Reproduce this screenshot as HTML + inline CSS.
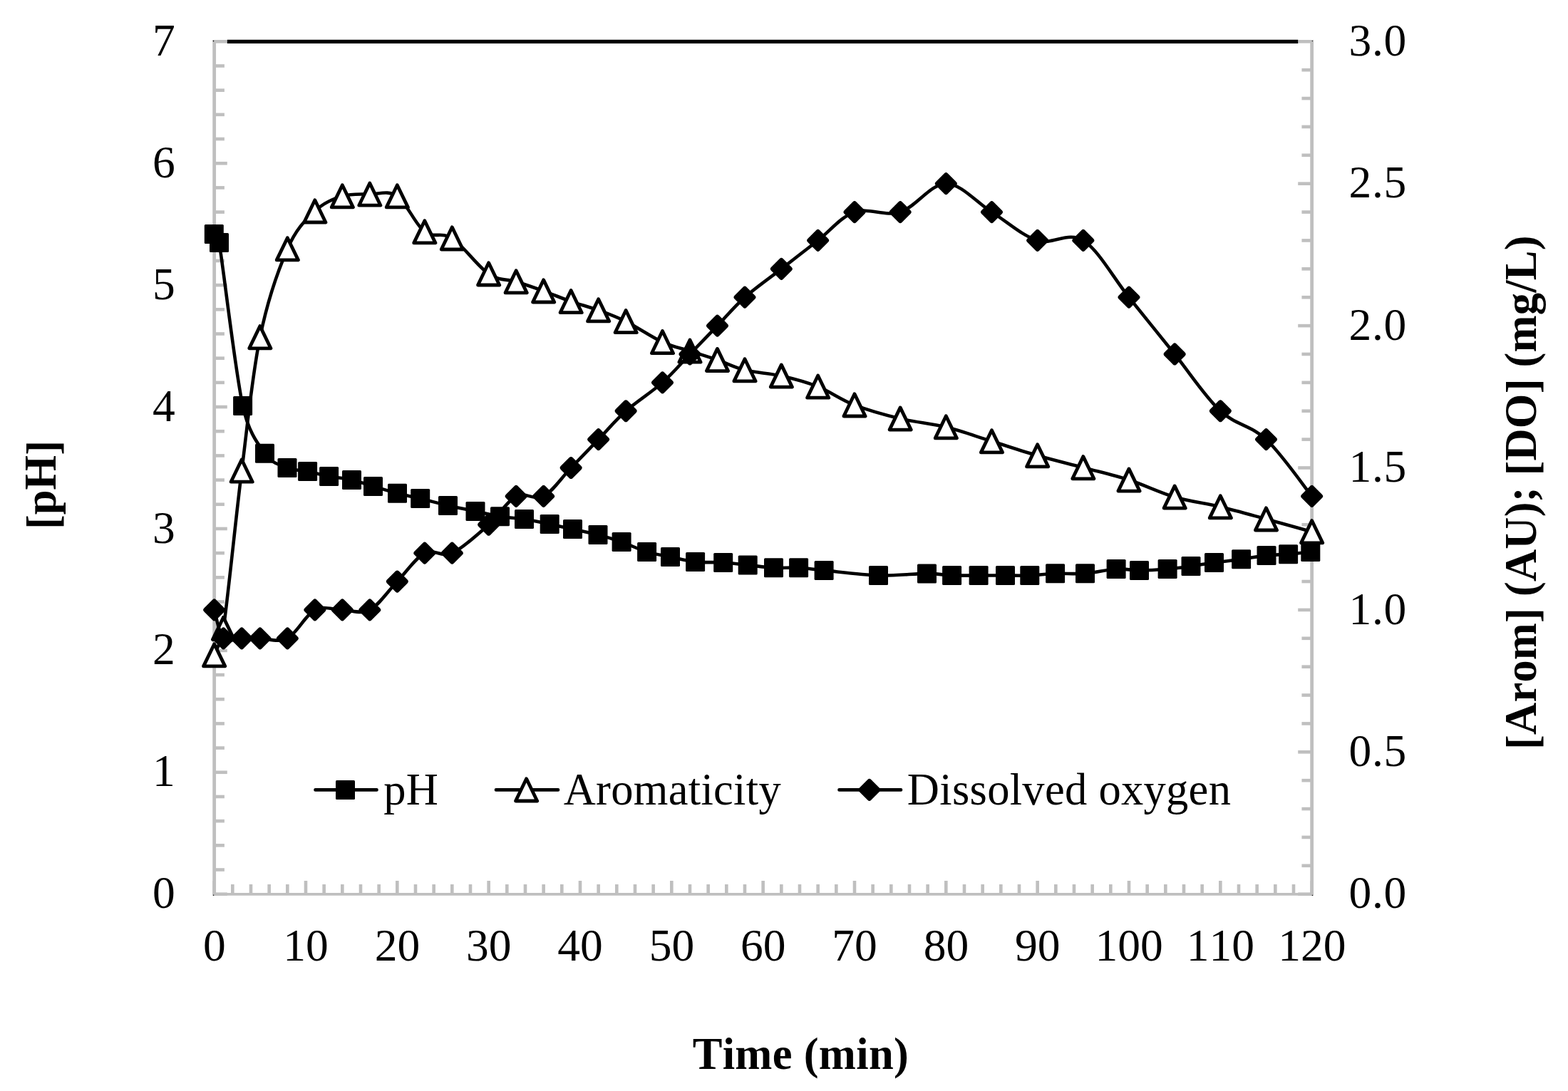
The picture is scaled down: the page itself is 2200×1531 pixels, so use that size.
<!DOCTYPE html>
<html lang="en">
<head>
<meta charset="utf-8">
<title>pH, aromaticity and dissolved oxygen vs time</title>
<style>
html,body{margin:0;padding:0;background:#fff;}
body{width:2200px;height:1531px;overflow:hidden;}
svg{display:block;}
text{font-family:"Liberation Serif","Times New Roman",serif;font-size:62.5px;fill:#000;font-kerning:none;font-variant-ligatures:none;}
.b{font-weight:bold;letter-spacing:0.32px;}
.b0{font-weight:bold;}
.t{font-size:63.5px;}
.tr{font-size:63.5px;letter-spacing:0.7px;}
.b1{font-weight:bold;letter-spacing:0.2px;}
.lg{letter-spacing:0.3px;}
</style>
</head>
<body>
<svg width="2200" height="1531" viewBox="0 0 2200 1531">
<rect x="0" y="0" width="2200" height="1531" fill="#fff"/>
<g stroke="#bfbfbf" fill="none" stroke-width="4.6">
<path d="M300.65 1254.7H318.8"/>
<path d="M300.65 1220.52H314.9"/>
<path d="M300.65 1186.33H314.9"/>
<path d="M300.65 1152.15H314.9"/>
<path d="M300.65 1117.97H314.9"/>
<path d="M300.65 1083.79H318.8"/>
<path d="M300.65 1049.6H314.9"/>
<path d="M300.65 1015.42H314.9"/>
<path d="M300.65 981.24H314.9"/>
<path d="M300.65 947.05H314.9"/>
<path d="M300.65 912.87H318.8"/>
<path d="M300.65 878.69H314.9"/>
<path d="M300.65 844.51H314.9"/>
<path d="M300.65 810.32H314.9"/>
<path d="M300.65 776.14H314.9"/>
<path d="M300.65 741.96H318.8"/>
<path d="M300.65 707.77H314.9"/>
<path d="M300.65 673.59H314.9"/>
<path d="M300.65 639.41H314.9"/>
<path d="M300.65 605.23H314.9"/>
<path d="M300.65 571.04H318.8"/>
<path d="M300.65 536.86H314.9"/>
<path d="M300.65 502.68H314.9"/>
<path d="M300.65 468.49H314.9"/>
<path d="M300.65 434.31H314.9"/>
<path d="M300.65 400.13H318.8"/>
<path d="M300.65 365.95H314.9"/>
<path d="M300.65 331.76H314.9"/>
<path d="M300.65 297.58H314.9"/>
<path d="M300.65 263.4H314.9"/>
<path d="M300.65 229.21H318.8"/>
<path d="M300.65 195.03H314.9"/>
<path d="M300.65 160.85H314.9"/>
<path d="M300.65 126.67H314.9"/>
<path d="M300.65 92.48H314.9"/>
<path d="M300.65 58.3H318.8"/>
<path d="M1840.65 1254.7H1821.2"/>
<path d="M1840.65 1214.82H1826.4"/>
<path d="M1840.65 1174.94H1826.4"/>
<path d="M1840.65 1135.06H1826.4"/>
<path d="M1840.65 1095.18H1826.4"/>
<path d="M1840.65 1055.3H1821.2"/>
<path d="M1840.65 1015.42H1826.4"/>
<path d="M1840.65 975.54H1826.4"/>
<path d="M1840.65 935.66H1826.4"/>
<path d="M1840.65 895.78H1826.4"/>
<path d="M1840.65 855.9H1821.2"/>
<path d="M1840.65 816.02H1826.4"/>
<path d="M1840.65 776.14H1826.4"/>
<path d="M1840.65 736.26H1826.4"/>
<path d="M1840.65 696.38H1826.4"/>
<path d="M1840.65 656.5H1821.2"/>
<path d="M1840.65 616.62H1826.4"/>
<path d="M1840.65 576.74H1826.4"/>
<path d="M1840.65 536.86H1826.4"/>
<path d="M1840.65 496.98H1826.4"/>
<path d="M1840.65 457.1H1821.2"/>
<path d="M1840.65 417.22H1826.4"/>
<path d="M1840.65 377.34H1826.4"/>
<path d="M1840.65 337.46H1826.4"/>
<path d="M1840.65 297.58H1826.4"/>
<path d="M1840.65 257.7H1821.2"/>
<path d="M1840.65 217.82H1826.4"/>
<path d="M1840.65 177.94H1826.4"/>
<path d="M1840.65 138.06H1826.4"/>
<path d="M1840.65 98.18H1826.4"/>
<path d="M1840.65 58.3H1821.2"/>
<path d="M300.65 1254.7V1236"/>
<path d="M326.32 1254.7V1241"/>
<path d="M351.98 1254.7V1241"/>
<path d="M377.65 1254.7V1241"/>
<path d="M403.32 1254.7V1241"/>
<path d="M428.98 1254.7V1236"/>
<path d="M454.65 1254.7V1241"/>
<path d="M480.32 1254.7V1241"/>
<path d="M505.98 1254.7V1241"/>
<path d="M531.65 1254.7V1241"/>
<path d="M557.32 1254.7V1236"/>
<path d="M582.98 1254.7V1241"/>
<path d="M608.65 1254.7V1241"/>
<path d="M634.32 1254.7V1241"/>
<path d="M659.98 1254.7V1241"/>
<path d="M685.65 1254.7V1236"/>
<path d="M711.32 1254.7V1241"/>
<path d="M736.98 1254.7V1241"/>
<path d="M762.65 1254.7V1241"/>
<path d="M788.32 1254.7V1241"/>
<path d="M813.98 1254.7V1236"/>
<path d="M839.65 1254.7V1241"/>
<path d="M865.32 1254.7V1241"/>
<path d="M890.98 1254.7V1241"/>
<path d="M916.65 1254.7V1241"/>
<path d="M942.32 1254.7V1236"/>
<path d="M967.98 1254.7V1241"/>
<path d="M993.65 1254.7V1241"/>
<path d="M1019.32 1254.7V1241"/>
<path d="M1044.98 1254.7V1241"/>
<path d="M1070.65 1254.7V1236"/>
<path d="M1096.32 1254.7V1241"/>
<path d="M1121.98 1254.7V1241"/>
<path d="M1147.65 1254.7V1241"/>
<path d="M1173.32 1254.7V1241"/>
<path d="M1198.98 1254.7V1236"/>
<path d="M1224.65 1254.7V1241"/>
<path d="M1250.32 1254.7V1241"/>
<path d="M1275.98 1254.7V1241"/>
<path d="M1301.65 1254.7V1241"/>
<path d="M1327.32 1254.7V1236"/>
<path d="M1352.98 1254.7V1241"/>
<path d="M1378.65 1254.7V1241"/>
<path d="M1404.32 1254.7V1241"/>
<path d="M1429.98 1254.7V1241"/>
<path d="M1455.65 1254.7V1236"/>
<path d="M1481.32 1254.7V1241"/>
<path d="M1506.98 1254.7V1241"/>
<path d="M1532.65 1254.7V1241"/>
<path d="M1558.32 1254.7V1241"/>
<path d="M1583.98 1254.7V1236"/>
<path d="M1609.65 1254.7V1241"/>
<path d="M1635.32 1254.7V1241"/>
<path d="M1660.98 1254.7V1241"/>
<path d="M1686.65 1254.7V1241"/>
<path d="M1712.32 1254.7V1236"/>
<path d="M1737.98 1254.7V1241"/>
<path d="M1763.65 1254.7V1241"/>
<path d="M1789.32 1254.7V1241"/>
<path d="M1814.98 1254.7V1241"/>
<path d="M1840.65 1254.7V1236"/>
</g>
<g stroke="#bfbfbf" fill="none" stroke-width="4.8" stroke-linecap="square">
<path d="M300.65 58.3V1254.7"/>
<path d="M1840.65 58.3V1254.7"/>
<path d="M300.65 1254.9H1840.65" stroke-width="3.9"/>
</g>
<path d="M318.8 58.3H1821.2" stroke="#000" stroke-width="5.2" fill="none"/>
<g fill="#000"><circle cx="299.5" cy="57.6" r="0.8"/><circle cx="299.6" cy="1256.3" r="0.7"/><circle cx="1841.4" cy="1256.4" r="0.7"/><circle cx="1841.3" cy="57.6" r="0.7"/></g>
<g fill="none" stroke="#000" stroke-width="4.6" stroke-linecap="round" stroke-linejoin="round">
<path d="M300.3 328.4C301.5 330.43 306.33 333.61 307.5 340.6C314.22 380.78 329.93 520.22 340.6 569.5C348.38 605.47 361.1 621.8 371.5 636.3C381.9 650.8 392.98 652.32 403 656.5C413.02 660.68 421.83 659.42 431.6 661.4C441.37 663.38 451.28 666.4 461.6 668.4C471.92 670.4 483.18 671.07 493.5 673.4C503.82 675.73 512.83 679.25 523.5 682.4C534.17 685.55 546.47 689.45 557.5 692.3C568.53 695.15 577.87 696.63 589.7 699.5C601.53 702.37 615.62 706.52 628.5 709.5C641.38 712.48 654.83 714.85 667 717.4C679.17 719.95 690.08 722.95 701.5 724.8C712.92 726.65 723.88 726.72 735.5 728.5C747.12 730.28 759.87 733.17 771.2 735.5C782.53 737.83 792.2 740.02 803.5 742.5C814.8 744.98 827.57 747.4 839 750.4C850.43 753.4 860.67 756.5 872.1 760.5C883.53 764.5 896.2 770.92 907.6 774.4C919 777.88 929.17 779.07 940.5 781.4C951.83 783.73 963.23 787.07 975.6 788.4C987.97 789.73 1002.43 788.65 1014.7 789.4C1026.97 790.15 1037.4 791.67 1049.2 792.9C1061 794.13 1073.6 796.15 1085.5 796.8C1097.4 797.45 1108.83 796.2 1120.6 796.8C1132.37 797.4 1138.34 798.7 1156.1 800.4C1174.75 802.18 1208.43 806.75 1232.5 807.5C1256.57 808.25 1283.32 804.9 1300.5 804.9C1317.68 804.9 1323.5 807.07 1335.6 807.5C1347.7 807.93 1360.62 807.5 1373.1 807.5C1385.58 807.5 1398.55 807.5 1410.5 807.5C1422.45 807.5 1433.12 807.95 1444.8 807.5C1456.48 807.05 1467.65 805.25 1480.6 804.8C1493.55 804.35 1508.25 805.85 1522.5 804.8C1536.75 803.75 1553.43 799.23 1566.1 798.5C1578.77 797.77 1586.5 800.4 1598.5 800.4C1610.5 800.4 1626.02 799.48 1638.1 798.5C1650.18 797.52 1660.1 796 1671 794.5C1681.9 793 1691.73 791.12 1703.5 789.5C1715.27 787.88 1729.35 786.48 1741.6 784.8C1753.85 783.12 1766 780.57 1777 779.4C1788 778.23 1797.3 778.63 1807.6 777.8C1817.9 776.97 1833.6 774.97 1838.8 774.4"/>
</g>
<g><rect x="286.8" y="314.9" width="27" height="27" rx="1.5" fill="#000"/><rect x="294" y="327.1" width="27" height="27" rx="1.5" fill="#000"/><rect x="327.1" y="556" width="27" height="27" rx="1.5" fill="#000"/><rect x="358" y="622.8" width="27" height="27" rx="1.5" fill="#000"/><rect x="389.5" y="643" width="27" height="27" rx="1.5" fill="#000"/><rect x="418.1" y="647.9" width="27" height="27" rx="1.5" fill="#000"/><rect x="448.1" y="654.9" width="27" height="27" rx="1.5" fill="#000"/><rect x="480" y="659.9" width="27" height="27" rx="1.5" fill="#000"/><rect x="510" y="668.9" width="27" height="27" rx="1.5" fill="#000"/><rect x="544" y="678.8" width="27" height="27" rx="1.5" fill="#000"/><rect x="576.2" y="686" width="27" height="27" rx="1.5" fill="#000"/><rect x="615" y="696" width="27" height="27" rx="1.5" fill="#000"/><rect x="653.5" y="703.9" width="27" height="27" rx="1.5" fill="#000"/><rect x="688" y="711.3" width="27" height="27" rx="1.5" fill="#000"/><rect x="722" y="715" width="27" height="27" rx="1.5" fill="#000"/><rect x="757.7" y="722" width="27" height="27" rx="1.5" fill="#000"/><rect x="790" y="729" width="27" height="27" rx="1.5" fill="#000"/><rect x="825.5" y="736.9" width="27" height="27" rx="1.5" fill="#000"/><rect x="858.6" y="747" width="27" height="27" rx="1.5" fill="#000"/><rect x="894.1" y="760.9" width="27" height="27" rx="1.5" fill="#000"/><rect x="927" y="767.9" width="27" height="27" rx="1.5" fill="#000"/><rect x="962.1" y="774.9" width="27" height="27" rx="1.5" fill="#000"/><rect x="1001.2" y="775.9" width="27" height="27" rx="1.5" fill="#000"/><rect x="1035.7" y="779.4" width="27" height="27" rx="1.5" fill="#000"/><rect x="1072" y="783.3" width="27" height="27" rx="1.5" fill="#000"/><rect x="1107.1" y="783.3" width="27" height="27" rx="1.5" fill="#000"/><rect x="1142.6" y="786.9" width="27" height="27" rx="1.5" fill="#000"/><rect x="1219" y="794" width="27" height="27" rx="1.5" fill="#000"/><rect x="1287" y="791.4" width="27" height="27" rx="1.5" fill="#000"/><rect x="1322.1" y="794" width="27" height="27" rx="1.5" fill="#000"/><rect x="1359.6" y="794" width="27" height="27" rx="1.5" fill="#000"/><rect x="1397" y="794" width="27" height="27" rx="1.5" fill="#000"/><rect x="1431.3" y="794" width="27" height="27" rx="1.5" fill="#000"/><rect x="1467.1" y="791.3" width="27" height="27" rx="1.5" fill="#000"/><rect x="1509" y="791.3" width="27" height="27" rx="1.5" fill="#000"/><rect x="1552.6" y="785" width="27" height="27" rx="1.5" fill="#000"/><rect x="1585" y="786.9" width="27" height="27" rx="1.5" fill="#000"/><rect x="1624.6" y="785" width="27" height="27" rx="1.5" fill="#000"/><rect x="1657.5" y="781" width="27" height="27" rx="1.5" fill="#000"/><rect x="1690" y="776" width="27" height="27" rx="1.5" fill="#000"/><rect x="1728.1" y="771.3" width="27" height="27" rx="1.5" fill="#000"/><rect x="1763.5" y="765.9" width="27" height="27" rx="1.5" fill="#000"/><rect x="1794.1" y="764.3" width="27" height="27" rx="1.5" fill="#000"/><rect x="1825.3" y="760.9" width="27" height="27" rx="1.5" fill="#000"/></g>
<g fill="none" stroke="#000" stroke-width="4.6" stroke-linecap="round" stroke-linejoin="round">
<path d="M300.65 919.3C302.79 913.07 310.57 901.45 313.48 881.9C319.9 838.78 330.59 728.72 339.15 660.6C347.71 592.48 354.12 525.08 364.82 473.2C375.51 421.32 390.48 378.77 403.32 349.3C416.15 319.83 428.98 308.73 441.82 296.4C454.65 284.07 467.48 279.27 480.32 275.3C493.15 271.33 505.98 272.6 518.82 272.6C531.65 272.6 544.48 266.52 557.32 275.3C570.15 284.08 582.98 315.45 595.82 325.3C608.65 335.15 619.34 324.55 634.32 334.4C649.29 344.25 670.68 374.25 685.65 384.4C700.62 394.55 711.32 391.3 724.15 395.3C736.98 399.3 749.82 403.77 762.65 408.4C775.48 413.03 788.32 418.62 801.15 423.1C813.98 427.58 826.82 430.63 839.65 435.3C852.48 439.97 863.18 443.63 878.15 451.1C893.12 458.57 914.51 473.18 929.48 480.1C944.46 487.02 955.15 488.45 967.98 492.6C980.82 496.75 993.65 500.55 1006.48 505C1019.32 509.45 1030.01 515.55 1044.98 519.3C1059.96 523.05 1079.21 523.62 1096.32 527.5C1113.43 531.38 1130.54 535.78 1147.65 542.6C1164.76 549.42 1179.73 560.92 1198.98 568.4C1218.23 575.88 1241.76 582.35 1263.15 587.5C1284.54 592.65 1305.93 594 1327.32 599.3C1348.71 604.6 1370.09 612.63 1391.48 619.3C1412.87 625.97 1434.26 633.15 1455.65 639.3C1477.04 645.45 1498.43 650.5 1519.82 656.2C1541.21 661.9 1562.59 666.62 1583.98 673.5C1605.37 680.38 1626.76 691.2 1648.15 697.5C1669.54 703.8 1690.93 706.15 1712.32 711.3C1733.71 716.45 1755.09 722.58 1776.48 728.4C1797.87 734.22 1829.96 743.23 1840.65 746.2"/>
</g>
<g><path d="M300.65 903.7L315.75 934.9L285.55 934.9Z" fill="#fff" stroke="#000" stroke-width="4.8" stroke-linejoin="round"/><path d="M313.48 866.3L328.58 897.5L298.38 897.5Z" fill="#fff" stroke="#000" stroke-width="4.8" stroke-linejoin="round"/><path d="M339.15 645L354.25 676.2L324.05 676.2Z" fill="#fff" stroke="#000" stroke-width="4.8" stroke-linejoin="round"/><path d="M364.82 457.6L379.92 488.8L349.72 488.8Z" fill="#fff" stroke="#000" stroke-width="4.8" stroke-linejoin="round"/><path d="M403.32 333.7L418.42 364.9L388.22 364.9Z" fill="#fff" stroke="#000" stroke-width="4.8" stroke-linejoin="round"/><path d="M441.82 280.8L456.92 312L426.72 312Z" fill="#fff" stroke="#000" stroke-width="4.8" stroke-linejoin="round"/><path d="M480.32 259.7L495.42 290.9L465.22 290.9Z" fill="#fff" stroke="#000" stroke-width="4.8" stroke-linejoin="round"/><path d="M518.82 257L533.92 288.2L503.72 288.2Z" fill="#fff" stroke="#000" stroke-width="4.8" stroke-linejoin="round"/><path d="M557.32 259.7L572.42 290.9L542.22 290.9Z" fill="#fff" stroke="#000" stroke-width="4.8" stroke-linejoin="round"/><path d="M595.82 309.7L610.92 340.9L580.72 340.9Z" fill="#fff" stroke="#000" stroke-width="4.8" stroke-linejoin="round"/><path d="M634.32 318.8L649.42 350L619.22 350Z" fill="#fff" stroke="#000" stroke-width="4.8" stroke-linejoin="round"/><path d="M685.65 368.8L700.75 400L670.55 400Z" fill="#fff" stroke="#000" stroke-width="4.8" stroke-linejoin="round"/><path d="M724.15 379.7L739.25 410.9L709.05 410.9Z" fill="#fff" stroke="#000" stroke-width="4.8" stroke-linejoin="round"/><path d="M762.65 392.8L777.75 424L747.55 424Z" fill="#fff" stroke="#000" stroke-width="4.8" stroke-linejoin="round"/><path d="M801.15 407.5L816.25 438.7L786.05 438.7Z" fill="#fff" stroke="#000" stroke-width="4.8" stroke-linejoin="round"/><path d="M839.65 419.7L854.75 450.9L824.55 450.9Z" fill="#fff" stroke="#000" stroke-width="4.8" stroke-linejoin="round"/><path d="M878.15 435.5L893.25 466.7L863.05 466.7Z" fill="#fff" stroke="#000" stroke-width="4.8" stroke-linejoin="round"/><path d="M929.48 464.5L944.58 495.7L914.38 495.7Z" fill="#fff" stroke="#000" stroke-width="4.8" stroke-linejoin="round"/><path d="M967.98 477L983.08 508.2L952.88 508.2Z" fill="#fff" stroke="#000" stroke-width="4.8" stroke-linejoin="round"/><path d="M1006.48 489.4L1021.58 520.6L991.38 520.6Z" fill="#fff" stroke="#000" stroke-width="4.8" stroke-linejoin="round"/><path d="M1044.98 503.7L1060.08 534.9L1029.88 534.9Z" fill="#fff" stroke="#000" stroke-width="4.8" stroke-linejoin="round"/><path d="M1096.32 511.9L1111.42 543.1L1081.22 543.1Z" fill="#fff" stroke="#000" stroke-width="4.8" stroke-linejoin="round"/><path d="M1147.65 527L1162.75 558.2L1132.55 558.2Z" fill="#fff" stroke="#000" stroke-width="4.8" stroke-linejoin="round"/><path d="M1198.98 552.8L1214.08 584L1183.88 584Z" fill="#fff" stroke="#000" stroke-width="4.8" stroke-linejoin="round"/><path d="M1263.15 571.9L1278.25 603.1L1248.05 603.1Z" fill="#fff" stroke="#000" stroke-width="4.8" stroke-linejoin="round"/><path d="M1327.32 583.7L1342.42 614.9L1312.22 614.9Z" fill="#fff" stroke="#000" stroke-width="4.8" stroke-linejoin="round"/><path d="M1391.48 603.7L1406.58 634.9L1376.38 634.9Z" fill="#fff" stroke="#000" stroke-width="4.8" stroke-linejoin="round"/><path d="M1455.65 623.7L1470.75 654.9L1440.55 654.9Z" fill="#fff" stroke="#000" stroke-width="4.8" stroke-linejoin="round"/><path d="M1519.82 640.6L1534.92 671.8L1504.72 671.8Z" fill="#fff" stroke="#000" stroke-width="4.8" stroke-linejoin="round"/><path d="M1583.98 657.9L1599.08 689.1L1568.88 689.1Z" fill="#fff" stroke="#000" stroke-width="4.8" stroke-linejoin="round"/><path d="M1648.15 681.9L1663.25 713.1L1633.05 713.1Z" fill="#fff" stroke="#000" stroke-width="4.8" stroke-linejoin="round"/><path d="M1712.32 695.7L1727.42 726.9L1697.22 726.9Z" fill="#fff" stroke="#000" stroke-width="4.8" stroke-linejoin="round"/><path d="M1776.48 712.8L1791.58 744L1761.38 744Z" fill="#fff" stroke="#000" stroke-width="4.8" stroke-linejoin="round"/><path d="M1840.65 730.6L1855.75 761.8L1825.55 761.8Z" fill="#fff" stroke="#000" stroke-width="4.8" stroke-linejoin="round"/></g>
<g fill="none" stroke="#000" stroke-width="4.6" stroke-linecap="round" stroke-linejoin="round">
<path d="M300.65 855.9C302.79 862.55 307.07 889.13 313.48 895.78C319.9 902.43 330.59 895.78 339.15 895.78C347.71 895.78 354.12 895.78 364.82 895.78C375.51 895.78 390.48 902.43 403.32 895.78C416.15 889.13 428.98 862.55 441.82 855.9C454.65 849.25 467.48 855.9 480.32 855.9C493.15 855.9 505.98 862.55 518.82 855.9C531.65 849.25 544.48 829.31 557.32 816.02C570.15 802.73 582.98 782.79 595.82 776.14C608.65 769.49 619.34 782.79 634.32 776.14C649.29 769.49 670.68 749.55 685.65 736.26C700.62 722.97 711.32 703.03 724.15 696.38C736.98 689.73 749.82 703.03 762.65 696.38C775.48 689.73 788.32 669.79 801.15 656.5C813.98 643.21 826.82 629.91 839.65 616.62C852.48 603.33 863.18 590.03 878.15 576.74C893.12 563.45 914.51 550.15 929.48 536.86C944.46 523.57 955.15 510.27 967.98 496.98C980.82 483.69 993.65 470.39 1006.48 457.1C1019.32 443.81 1030.01 430.51 1044.98 417.22C1059.96 403.93 1079.21 390.63 1096.32 377.34C1113.43 364.05 1130.54 350.75 1147.65 337.46C1164.76 324.17 1179.73 304.23 1198.98 297.58C1218.23 290.93 1241.76 304.23 1263.15 297.58C1284.54 290.93 1305.93 257.7 1327.32 257.7C1348.71 257.7 1370.09 284.29 1391.48 297.58C1412.87 310.87 1434.26 330.81 1455.65 337.46C1477.04 344.11 1498.43 324.17 1519.82 337.46C1541.21 350.75 1562.59 390.63 1583.98 417.22C1605.37 443.81 1626.76 470.39 1648.15 496.98C1669.54 523.57 1690.93 556.8 1712.32 576.74C1733.71 596.68 1755.09 596.68 1776.48 616.62C1797.87 636.56 1829.96 683.09 1840.65 696.38"/>
</g>
<g><path d="M300.65 843.9L312.65 855.9L300.65 867.9L288.65 855.9Z" fill="#000" stroke="#000" stroke-width="6.8" stroke-linejoin="round"/><path d="M313.48 883.78L325.48 895.78L313.48 907.78L301.48 895.78Z" fill="#000" stroke="#000" stroke-width="6.8" stroke-linejoin="round"/><path d="M339.15 883.78L351.15 895.78L339.15 907.78L327.15 895.78Z" fill="#000" stroke="#000" stroke-width="6.8" stroke-linejoin="round"/><path d="M364.82 883.78L376.82 895.78L364.82 907.78L352.82 895.78Z" fill="#000" stroke="#000" stroke-width="6.8" stroke-linejoin="round"/><path d="M403.32 883.78L415.32 895.78L403.32 907.78L391.32 895.78Z" fill="#000" stroke="#000" stroke-width="6.8" stroke-linejoin="round"/><path d="M441.82 843.9L453.82 855.9L441.82 867.9L429.82 855.9Z" fill="#000" stroke="#000" stroke-width="6.8" stroke-linejoin="round"/><path d="M480.32 843.9L492.32 855.9L480.32 867.9L468.32 855.9Z" fill="#000" stroke="#000" stroke-width="6.8" stroke-linejoin="round"/><path d="M518.82 843.9L530.82 855.9L518.82 867.9L506.82 855.9Z" fill="#000" stroke="#000" stroke-width="6.8" stroke-linejoin="round"/><path d="M557.32 804.02L569.32 816.02L557.32 828.02L545.32 816.02Z" fill="#000" stroke="#000" stroke-width="6.8" stroke-linejoin="round"/><path d="M595.82 764.14L607.82 776.14L595.82 788.14L583.82 776.14Z" fill="#000" stroke="#000" stroke-width="6.8" stroke-linejoin="round"/><path d="M634.32 764.14L646.32 776.14L634.32 788.14L622.32 776.14Z" fill="#000" stroke="#000" stroke-width="6.8" stroke-linejoin="round"/><path d="M685.65 724.26L697.65 736.26L685.65 748.26L673.65 736.26Z" fill="#000" stroke="#000" stroke-width="6.8" stroke-linejoin="round"/><path d="M724.15 684.38L736.15 696.38L724.15 708.38L712.15 696.38Z" fill="#000" stroke="#000" stroke-width="6.8" stroke-linejoin="round"/><path d="M762.65 684.38L774.65 696.38L762.65 708.38L750.65 696.38Z" fill="#000" stroke="#000" stroke-width="6.8" stroke-linejoin="round"/><path d="M801.15 644.5L813.15 656.5L801.15 668.5L789.15 656.5Z" fill="#000" stroke="#000" stroke-width="6.8" stroke-linejoin="round"/><path d="M839.65 604.62L851.65 616.62L839.65 628.62L827.65 616.62Z" fill="#000" stroke="#000" stroke-width="6.8" stroke-linejoin="round"/><path d="M878.15 564.74L890.15 576.74L878.15 588.74L866.15 576.74Z" fill="#000" stroke="#000" stroke-width="6.8" stroke-linejoin="round"/><path d="M929.48 524.86L941.48 536.86L929.48 548.86L917.48 536.86Z" fill="#000" stroke="#000" stroke-width="6.8" stroke-linejoin="round"/><path d="M967.98 484.98L979.98 496.98L967.98 508.98L955.98 496.98Z" fill="#000" stroke="#000" stroke-width="6.8" stroke-linejoin="round"/><path d="M1006.48 445.1L1018.48 457.1L1006.48 469.1L994.48 457.1Z" fill="#000" stroke="#000" stroke-width="6.8" stroke-linejoin="round"/><path d="M1044.98 405.22L1056.98 417.22L1044.98 429.22L1032.98 417.22Z" fill="#000" stroke="#000" stroke-width="6.8" stroke-linejoin="round"/><path d="M1096.32 365.34L1108.32 377.34L1096.32 389.34L1084.32 377.34Z" fill="#000" stroke="#000" stroke-width="6.8" stroke-linejoin="round"/><path d="M1147.65 325.46L1159.65 337.46L1147.65 349.46L1135.65 337.46Z" fill="#000" stroke="#000" stroke-width="6.8" stroke-linejoin="round"/><path d="M1198.98 285.58L1210.98 297.58L1198.98 309.58L1186.98 297.58Z" fill="#000" stroke="#000" stroke-width="6.8" stroke-linejoin="round"/><path d="M1263.15 285.58L1275.15 297.58L1263.15 309.58L1251.15 297.58Z" fill="#000" stroke="#000" stroke-width="6.8" stroke-linejoin="round"/><path d="M1327.32 245.7L1339.32 257.7L1327.32 269.7L1315.32 257.7Z" fill="#000" stroke="#000" stroke-width="6.8" stroke-linejoin="round"/><path d="M1391.48 285.58L1403.48 297.58L1391.48 309.58L1379.48 297.58Z" fill="#000" stroke="#000" stroke-width="6.8" stroke-linejoin="round"/><path d="M1455.65 325.46L1467.65 337.46L1455.65 349.46L1443.65 337.46Z" fill="#000" stroke="#000" stroke-width="6.8" stroke-linejoin="round"/><path d="M1519.82 325.46L1531.82 337.46L1519.82 349.46L1507.82 337.46Z" fill="#000" stroke="#000" stroke-width="6.8" stroke-linejoin="round"/><path d="M1583.98 405.22L1595.98 417.22L1583.98 429.22L1571.98 417.22Z" fill="#000" stroke="#000" stroke-width="6.8" stroke-linejoin="round"/><path d="M1648.15 484.98L1660.15 496.98L1648.15 508.98L1636.15 496.98Z" fill="#000" stroke="#000" stroke-width="6.8" stroke-linejoin="round"/><path d="M1712.32 564.74L1724.32 576.74L1712.32 588.74L1700.32 576.74Z" fill="#000" stroke="#000" stroke-width="6.8" stroke-linejoin="round"/><path d="M1776.48 604.62L1788.48 616.62L1776.48 628.62L1764.48 616.62Z" fill="#000" stroke="#000" stroke-width="6.8" stroke-linejoin="round"/><path d="M1840.65 684.38L1852.65 696.38L1840.65 708.38L1828.65 696.38Z" fill="#000" stroke="#000" stroke-width="6.8" stroke-linejoin="round"/></g>
<text class="t" x="245.7" y="1274.3" text-anchor="end">0</text>
<text class="t" x="245.7" y="1103.39" text-anchor="end">1</text>
<text class="t" x="245.7" y="932.47" text-anchor="end">2</text>
<text class="t" x="245.7" y="761.56" text-anchor="end">3</text>
<text class="t" x="245.7" y="590.64" text-anchor="end">4</text>
<text class="t" x="245.7" y="419.73" text-anchor="end">5</text>
<text class="t" x="245.7" y="248.81" text-anchor="end">6</text>
<text class="t" x="245.7" y="77.9" text-anchor="end">7</text>
<text class="tr" x="1892.6" y="1274.3">0.0</text>
<text class="tr" x="1892.6" y="1074.9">0.5</text>
<text class="tr" x="1892.6" y="875.5">1.0</text>
<text class="tr" x="1892.6" y="676.1">1.5</text>
<text class="tr" x="1892.6" y="476.7">2.0</text>
<text class="tr" x="1892.6" y="277.3">2.5</text>
<text class="tr" x="1892.6" y="77.9">3.0</text>
<text class="t" x="300.75" y="1348" text-anchor="middle">0</text>
<text class="t" x="429.08" y="1348" text-anchor="middle">10</text>
<text class="t" x="557.42" y="1348" text-anchor="middle">20</text>
<text class="t" x="685.75" y="1348" text-anchor="middle">30</text>
<text class="t" x="814.08" y="1348" text-anchor="middle">40</text>
<text class="t" x="942.42" y="1348" text-anchor="middle">50</text>
<text class="t" x="1070.75" y="1348" text-anchor="middle">60</text>
<text class="t" x="1199.08" y="1348" text-anchor="middle">70</text>
<text class="t" x="1327.42" y="1348" text-anchor="middle">80</text>
<text class="t" x="1455.75" y="1348" text-anchor="middle">90</text>
<text class="t" x="1584.08" y="1348" text-anchor="middle">100</text>
<text class="t" x="1712.42" y="1348" text-anchor="middle">110</text>
<text class="t" x="1840.75" y="1348" text-anchor="middle">120</text>
<g fill="none" stroke="#000" stroke-width="4.6" stroke-linecap="round">
<path d="M442.5 1108.4H528.5"/><path d="M696 1108.4H783"/><path d="M1177.5 1108.4H1264"/>
</g>
<rect x="471" y="1094.9" width="27" height="27" rx="1.5" fill="#000"/>
<path d="M738.6 1092.8L753.7 1124L723.5 1124Z" fill="#fff" stroke="#000" stroke-width="4.8" stroke-linejoin="round"/>
<path d="M1219.8 1096.4L1231.8 1108.4L1219.8 1120.4L1207.8 1108.4Z" fill="#000" stroke="#000" stroke-width="6.8" stroke-linejoin="round"/>
<text class="lg" x="538.3" y="1129.2">pH</text>
<text class="lg" x="790.7" y="1129.2">Aromaticity</text>
<text class="lg" x="1272.8" y="1129.2">Dissolved oxygen</text>
<text class="b" x="1123.4" y="1499.8" text-anchor="middle">Time (min)</text>
<text class="b0" transform="translate(77.9 680.5) rotate(-90)" text-anchor="middle" dy="2.6 -2.6 0 2.6">[pH]</text>
<text class="b1" transform="translate(2154.7 691.1) rotate(-90)" text-anchor="middle" dy="1.8 -1.8 0 0 0 1.8 -1.8 0 0 0 0 0 0 1.8 -1.8 0 1.8 -1.8">[Arom] (AU); [DO] (mg/L)</text>
</svg>
</body>
</html>
